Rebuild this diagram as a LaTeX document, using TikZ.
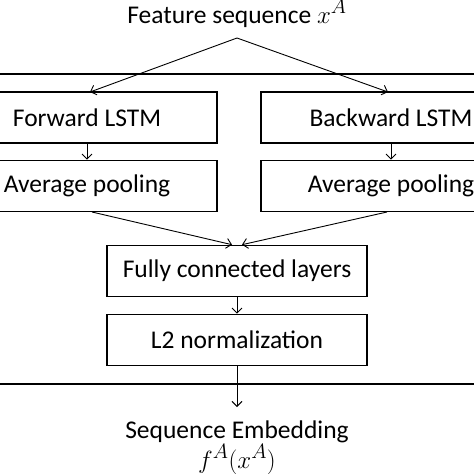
\documentclass[tikz,border=0pt]{standalone}
\usepackage{fontspec}
\setmainfont{Carlito}
\usetikzlibrary{arrows.meta}
\newcommand{\bigmath}[1]{{\fontsize{29}{30}\selectfont$#1$}}
\tikzset{
  blk/.style={draw, line width=1.6pt, minimum width=260pt, minimum height=51pt, inner sep=0pt},
  lbl/.style={inner sep=0pt, align=center},
  arr/.style={-{Straight Barb[length=5pt, width=10pt]}, line width=0.9pt}
}
\begin{document}
\begin{tikzpicture}[x=1pt, y=-1pt, font=\fontsize{25.5}{30}\selectfont]
\useasboundingbox (0, 0) rectangle (474, 474);
\clip (0, 0) rectangle (474, 474);
\draw[line width=2pt] (-60, 74) rectangle (534, 384);
\node[lbl, anchor=base] (in) at (237, 23) {Feature sequence \bigmath{x^A}};
\coordinate (split) at (237, 38);
\node[blk] (fw) at (87, 117.5) {Forward LSTM};
\node[blk] (bw) at (391, 117.5) {Backward LSTM};
\node[blk] (pf) at (87, 186) {Average pooling};
\node[blk] (pb) at (391, 186) {Average pooling};
\node[blk] (fc) at (237, 271) {Fully connected layers};
\node[blk] (l2) at (237, 340) {L2 normalization};
\node[lbl, anchor=base] (emb) at (237, 468) {Sequence Embedding\\\bigmath{f^A(x^A)}};
\coordinate (out) at (237, 407);
\draw[arr] (split) -- (90, 92);
\draw[arr] (split) -- (388, 92);
\draw[arr] (fw) -- (pf);
\draw[arr] (bw) -- (pb);
\draw[arr] (92, 212) -- ([xshift=-5pt]fc.north);
\draw[arr] (387, 212) -- ([xshift=5pt]fc.north);
\draw[arr] (fc) -- (l2);
\draw[arr] (l2) -- (out);
\end{tikzpicture}
\end{document}
